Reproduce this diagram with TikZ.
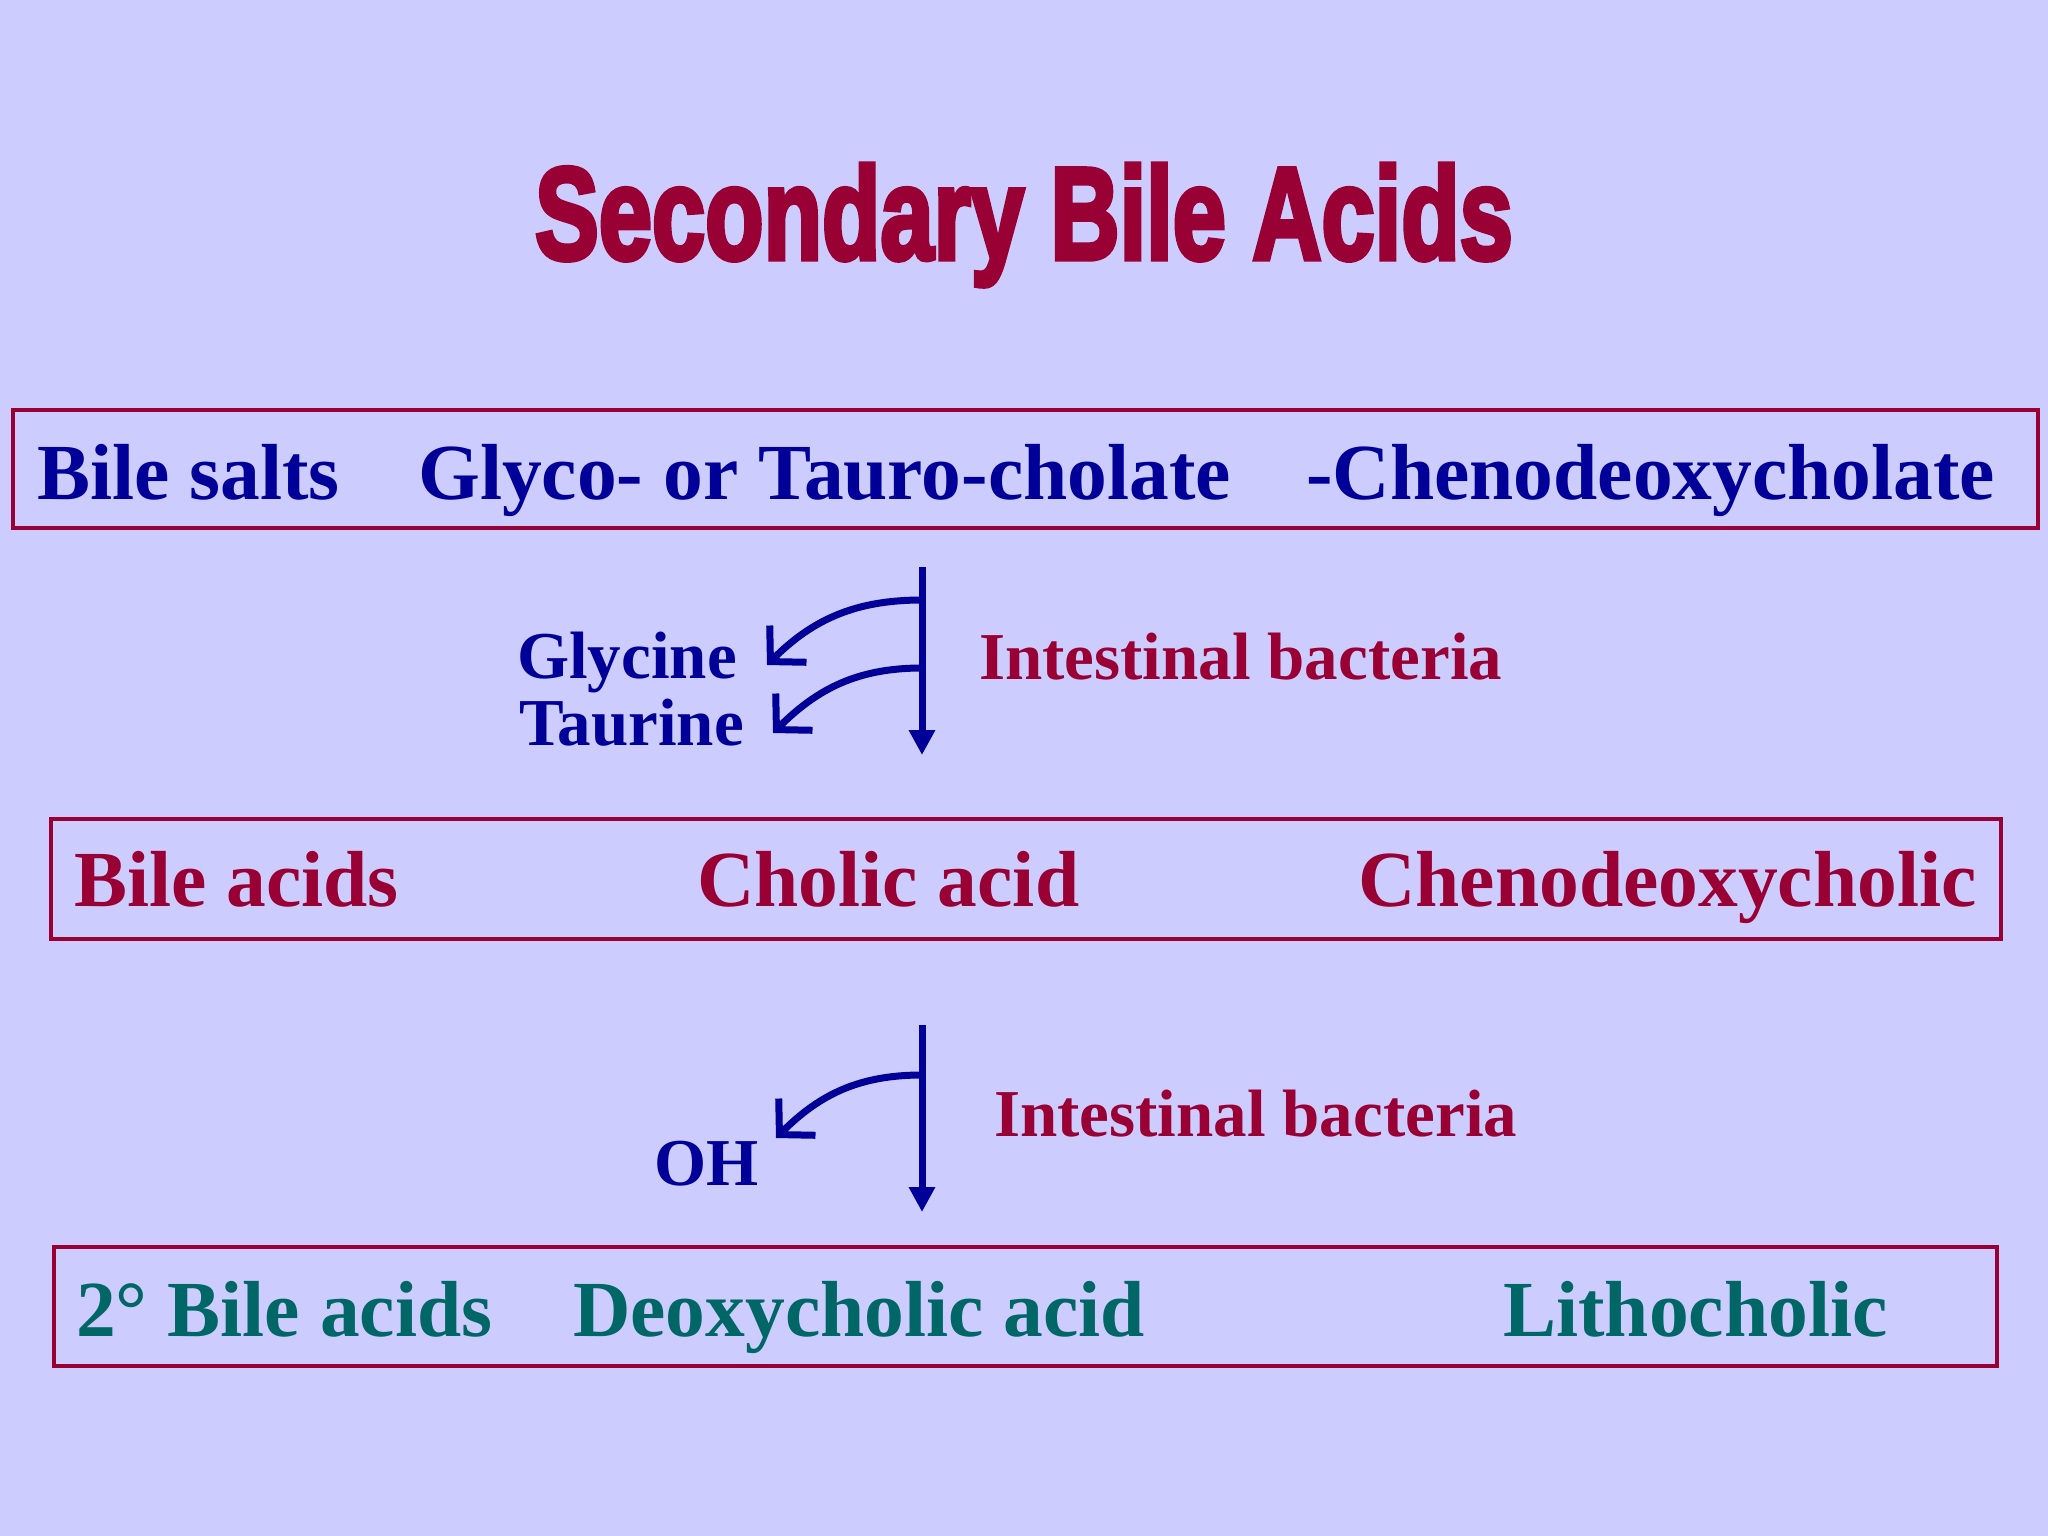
\documentclass[tikz,border=0pt]{standalone}
\usepackage{fontspec}
\setmainfont{Liberation Serif}
\newfontfamily\titlefont[FakeBold=4]{Liberation Sans Bold}
\usetikzlibrary{arrows.meta}
\definecolor{bgc}{HTML}{CCCCFF}
\definecolor{navy}{HTML}{000099}
\definecolor{maroon}{HTML}{990033}
\definecolor{teal}{HTML}{006666}
\tikzset{
  framebox/.style={draw=maroon, line width=4pt, inner sep=0pt, outer sep=0pt},
  bigtxt/.style={anchor=base west, inner sep=0pt, font=\fontsize{79.5}{90}\selectfont\bfseries},
  midtxt/.style={anchor=base west, inner sep=0pt, font=\fontsize{67}{76}\selectfont\bfseries},
  mainarrow/.style={draw=navy, line width=7pt, -{Triangle[length=25pt,width=25pt]}},
  branch/.style={draw=navy, line width=7pt, -{Straight Barb[length=25pt,width=52pt,line width=7pt]}, out=180, in=45},
}
\begin{document}
\begin{tikzpicture}[x=1pt,y=-1pt]
\useasboundingbox (0,0) rectangle (2048,1536);
\fill[bgc] (0,0) rectangle (2048,1536);
% title
\node[anchor=base, inner sep=0pt, text=maroon, font=\titlefont\fontsize{131}{140}\selectfont] (title) at (1024,259) {\scalebox{0.73}[1]{Secondary Bile Acids}};
% boxes
\node[framebox, minimum width=2025pt, minimum height=118pt] (box1) at (1025.5,468.5) {};
\node[framebox, minimum width=1950pt, minimum height=120pt] (box2) at (1026,879) {};
\node[framebox, minimum width=1943pt, minimum height=119pt] (box3) at (1025.5,1306.5) {};
% row 1
\node[bigtxt, text=navy] (bs) at (37,499) {Bile salts};
\node[bigtxt, text=navy] (gt) at (418,499) {Glyco- or Tauro-cholate};
\node[bigtxt, text=navy] (cd) at (1306,499) {-Chenodeoxycholate};
% row 2
\node[bigtxt, text=maroon] (ba) at (74,906) {Bile acids};
\node[bigtxt, text=maroon] (ca) at (697,906) {Cholic acid};
\node[bigtxt, text=maroon] (cdc) at (1358,906) {Chenodeoxycholic};
% row 3
\node[bigtxt, text=teal] (sba) at (76,1336) {2° Bile acids};
\node[bigtxt, text=teal] (dca) at (573,1336) {Deoxycholic acid};
\node[bigtxt, text=teal] (lca) at (1503,1336) {Lithocholic};
% side labels
\node[midtxt, text=navy] (gly) at (517,678) {Glycine};
\node[midtxt, text=navy] (tau) at (519,745) {Taurine};
\node[midtxt, text=maroon] (ib1) at (979,679) {Intestinal bacteria};
\node[midtxt, text=maroon] (ib2) at (994,1136) {Intestinal bacteria};
\node[midtxt, text=navy] (oh) at (654,1185) {OH};
% arrow 1
\coordinate (a1top) at (922,567);
\coordinate (a1bot) at (922,755);
\coordinate (b1s) at (922,600);
\coordinate (b1e) at (767,665);
\coordinate (b2s) at (922,668);
\coordinate (b2e) at (773,733);
\draw[mainarrow] (a1top) -- (a1bot);
\draw[branch] (b1s) to (b1e);
\draw[branch] (b2s) to (b2e);
% arrow 2
\coordinate (a2top) at (922,1025);
\coordinate (a2bot) at (922,1212);
\coordinate (b3s) at (922,1075);
\coordinate (b3e) at (776,1138);
\draw[mainarrow] (a2top) -- (a2bot);
\draw[branch] (b3s) to (b3e);
\end{tikzpicture}
\end{document}
